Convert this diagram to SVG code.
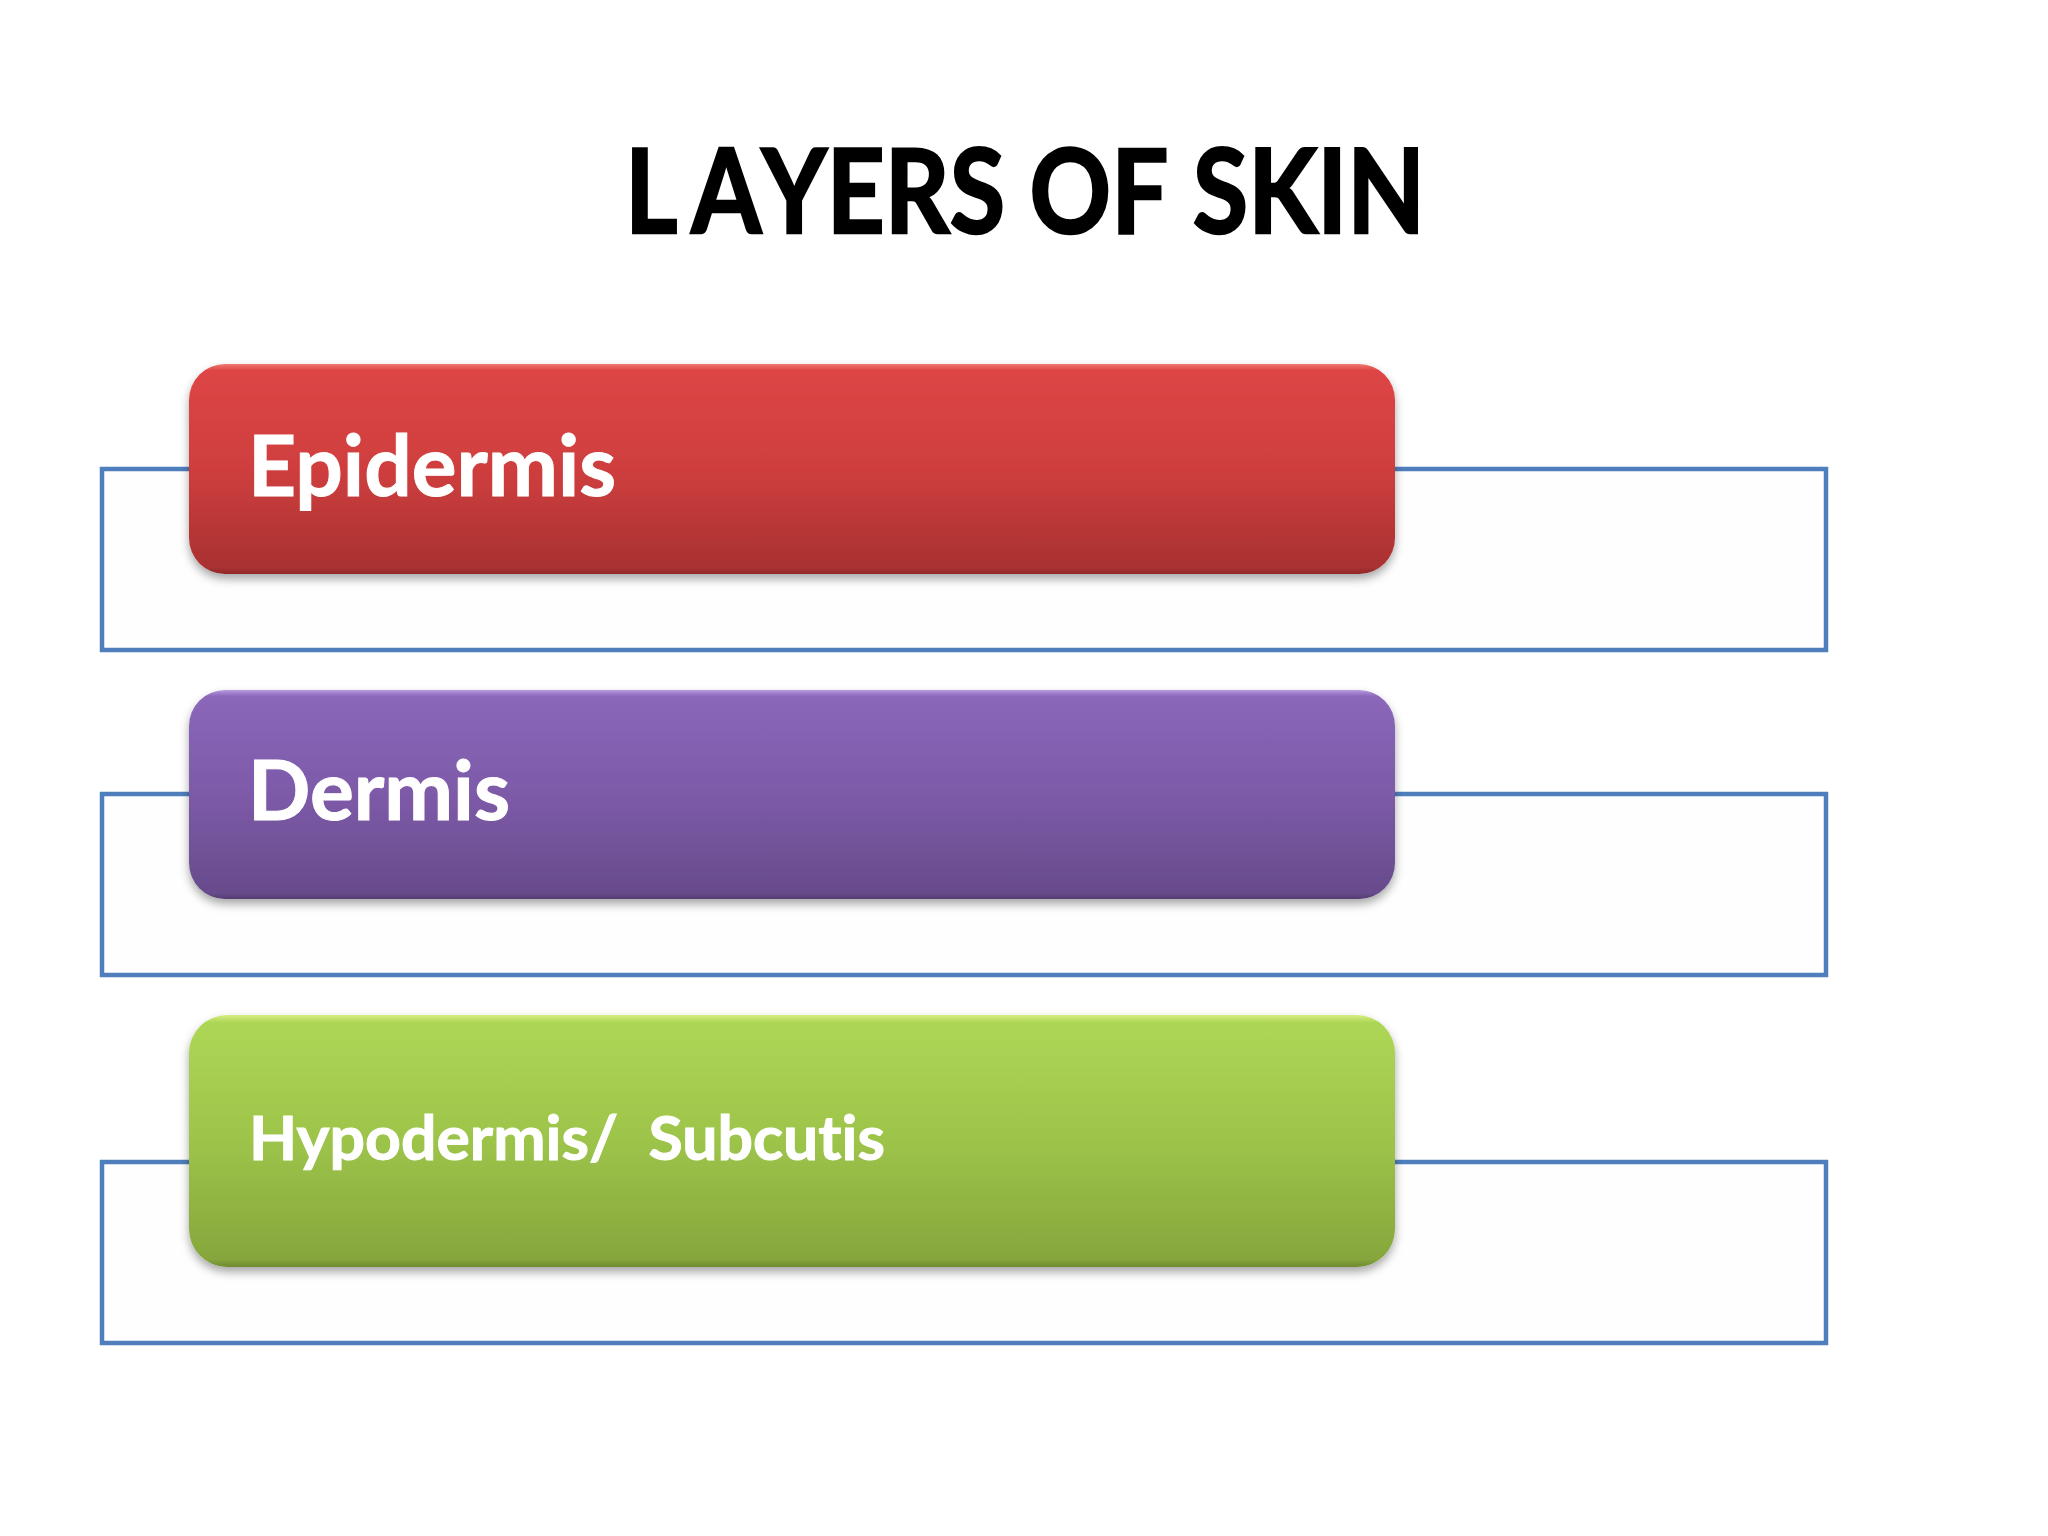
<svg xmlns="http://www.w3.org/2000/svg" width="2048" height="1536" viewBox="0 0 2048 1536">
  <style>
    .frame { fill: #FEFEFE; stroke: #4F7EBD; stroke-width: 4.5; }
    .label { font-family: Lato, "Open Sans", "Liberation Sans", sans-serif; font-weight: bold; fill: #FFFFFF; stroke: #FFFFFF; stroke-width: 1; font-variant-ligatures: none; }
    .title { font-family: Lato, "Open Sans", "Liberation Sans", sans-serif; font-weight: bold; fill: #000000; stroke: #000000; stroke-width: 2.5; font-variant-ligatures: none; font-kerning: none; }
  </style>
  <defs>
    <linearGradient id="gRed" x1="0" y1="0" x2="0" y2="1">
      <stop offset="0" stop-color="#F07A72"/>
      <stop offset="0.03" stop-color="#DE4545"/>
      <stop offset="0.5" stop-color="#CF3E3E"/>
      <stop offset="0.97" stop-color="#A93131"/>
      <stop offset="1" stop-color="#8E2828"/>
    </linearGradient>
    <linearGradient id="gPurple" x1="0" y1="0" x2="0" y2="1">
      <stop offset="0" stop-color="#B89AE0"/>
      <stop offset="0.03" stop-color="#8B67BA"/>
      <stop offset="0.5" stop-color="#7D5AA8"/>
      <stop offset="0.97" stop-color="#684B8C"/>
      <stop offset="1" stop-color="#553C74"/>
    </linearGradient>
    <linearGradient id="gGreen" x1="0" y1="0" x2="0" y2="1">
      <stop offset="0" stop-color="#D6EE82"/>
      <stop offset="0.03" stop-color="#AED655"/>
      <stop offset="0.5" stop-color="#9DC44A"/>
      <stop offset="0.97" stop-color="#86A63C"/>
      <stop offset="1" stop-color="#6E8A30"/>
    </linearGradient>
    <filter id="shadow" x="-5%" y="-20%" width="110%" height="150%">
      <feDropShadow dx="0" dy="5" stdDeviation="5" flood-color="#000000" flood-opacity="0.35"/>
    </filter>
  </defs>

  <rect width="2048" height="1536" fill="#FFFFFF"/>

  <text class="title" x="1025" y="233" font-size="116" text-anchor="middle" textLength="800" lengthAdjust="spacingAndGlyphs">L<tspan dx="16">AYERS OF SKIN</tspan></text>

  <g id="connectors">
    <rect class="frame" x="102" y="469" width="1724" height="181"/>
    <rect class="frame" x="102" y="794" width="1724" height="181"/>
    <rect class="frame" x="102" y="1162" width="1724" height="181"/>
  </g>

  <g id="epidermis">
    <rect x="189" y="364" width="1206" height="210" rx="36" ry="36" fill="url(#gRed)" filter="url(#shadow)"/>
    <text class="label" x="248" y="496" font-size="84" textLength="368" lengthAdjust="spacingAndGlyphs">Epidermis</text>
  </g>

  <g id="dermis">
    <rect x="189" y="690" width="1206" height="209" rx="36" ry="36" fill="url(#gPurple)" filter="url(#shadow)"/>
    <text class="label" x="248" y="820" font-size="82" textLength="262" lengthAdjust="spacingAndGlyphs">Dermis</text>
  </g>

  <g id="hypodermis">
    <rect x="189" y="1015" width="1206" height="252" rx="38" ry="38" fill="url(#gGreen)" filter="url(#shadow)"/>
    <text class="label" x="249" y="1160" font-size="62" stroke-width="0.5" textLength="636" lengthAdjust="spacingAndGlyphs" xml:space="preserve">Hypodermis/  Subcutis</text>
  </g>
</svg>
